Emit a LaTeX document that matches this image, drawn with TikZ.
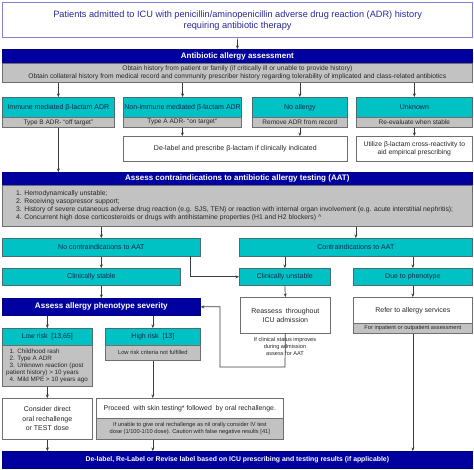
\documentclass[tikz,border=0pt]{standalone}
\usepackage{fontspec}
\setmainfont{Liberation Sans}
\usetikzlibrary{arrows.meta}
\definecolor{tealf}{RGB}{0,194,196}
\definecolor{tealb}{RGB}{70,110,115}
\definecolor{darkb}{RGB}{0,0,160}
\definecolor{grayf}{RGB}{194,194,194}
\definecolor{grayb}{RGB}{110,110,110}
\definecolor{topb}{RGB}{128,128,214}
\definecolor{toptext}{RGB}{40,40,150}
\definecolor{tealtext}{RGB}{25,40,80}
\definecolor{linec}{RGB}{60,60,60}
\begin{document}
\begin{tikzpicture}[x=1pt,y=-1pt,
  box/.style={anchor=north west,inner sep=1pt,align=center,line width=0.7pt},
  topbox/.style={box,draw=topb,fill=white,line width=1.3pt,text=toptext,font=\fontsize{9.2}{11}\selectfont},
  bar/.style={box,draw=darkb!80!black,fill=darkb,text=white,font=\bfseries\fontsize{8}{9}\selectfont},
  greybox/.style={box,draw=grayb,fill=grayf,text=black!85,font=\fontsize{6.7}{8}\selectfont},
  subbox/.style={greybox,font=\fontsize{6.5}{7}\selectfont},
  tealbox/.style={box,draw=tealb,fill=tealf,text=tealtext,font=\fontsize{7}{8}\selectfont},
  whitebox/.style={box,draw=grayb,fill=white,text=black!85,font=\fontsize{7}{9}\selectfont},
  arr/.style={draw=linec,line width=0.7pt,-{Stealth[length=3.5pt,width=3pt]}},
  ln/.style={draw=linec,line width=0.7pt}
]
\useasboundingbox (0,0) rectangle (474,470);
\fill[white] (0,0) rectangle (474,470);

\node[topbox,minimum width=470,minimum height=35] (top) at (2,2) {Patients admitted to ICU with penicillin/aminopenicillin adverse drug reaction (ADR) history\\requiring antibiotic therapy};

\node[bar,minimum width=470,minimum height=14] (a1) at (2,49) {Antibiotic allergy assessment};
\node[greybox,minimum width=470,minimum height=19] (a1g) at (2,63) {Obtain history from patient or family (if critically ill or unable to provide history)\\Obtain collateral history from medical record and community prescriber history regarding tolerability of implicated and class-related antibiotics};

\node[tealbox,minimum width=112,minimum height=20] (b1) at (2,97) {Immune mediated β-lactam ADR};
\node[subbox,minimum width=112,minimum height=10] (b1s) at (2,117) {Type B ADR- ``off target''};
\node[tealbox,minimum width=118,minimum height=20] (b2) at (123,97) {Non-immune mediated β-lactam ADR};
\node[subbox,minimum width=118,minimum height=10] (b2s) at (123,117) {Type A ADR- ``on target''};
\node[tealbox,minimum width=95,minimum height=20] (b3) at (252,97) {No allergy};
\node[subbox,minimum width=95,minimum height=10] (b3s) at (252,117) {Remove ADR from record};
\node[tealbox,minimum width=116,minimum height=20] (b4) at (356,97) {Unknown};
\node[subbox,minimum width=116,minimum height=10] (b4s) at (356,117) {Re-evaluate when stable};

\node[whitebox,minimum width=224,minimum height=25] (delabel) at (123,136) {De-label and prescribe β-lactam if clinically indicated};
\node[whitebox,minimum width=116,minimum height=25,font=\fontsize{6.8}{8.5}\selectfont] (util) at (356,136) {Utilize β-lactam cross-reactivity to\\aid empirical prescribing};

\node[bar,minimum width=470,minimum height=13] (aat) at (2,172) {Assess contraindications to antibiotic allergy testing (AAT)};
\node[greybox,minimum width=470,minimum height=41] (aatg) at (2,185) {};
\node[anchor=west,align=left,inner sep=0pt,text=black!85,font=\fontsize{6.8}{7.8}\selectfont] (aatt) at ([xshift=14pt]aatg.west) {1. Hemodynamically unstable;\\2. Receiving vasopressor support;\\3. History of severe cutaneous adverse drug reaction (e.g. SJS, TEN) or reaction with internal organ involvement (e.g. acute interstitial nephritis);\\4. Concurrent high dose corticosteroids or drugs with antihistamine properties (H1 and H2 blockers) \^{}};

\node[tealbox,minimum width=198,minimum height=18] (noc) at (2,238) {No contraindications to AAT};
\node[tealbox,minimum width=233,minimum height=18] (con) at (239,238) {Contraindications to AAT};

\node[tealbox,minimum width=178,minimum height=17] (stable) at (2,268) {Clinically stable};
\node[tealbox,minimum width=91,minimum height=17] (unst) at (239,268) {Clinically unstable};
\node[tealbox,minimum width=119,minimum height=17] (pheno) at (353,268) {Due to phenotype};

\node[bar,minimum width=198,minimum height=17,font=\bfseries\fontsize{8.1}{9}\selectfont] (sev) at (2,298) {Assess allergy phenotype severity};
\node[whitebox,minimum width=90,minimum height=36] (reas) at (240,297) {Reassess\ \ throughout\\ICU admission};
\node[anchor=north,align=center,inner sep=0pt,font=\fontsize{5.6}{7}\selectfont,text=black!85] (note) at (285,337) {If clinical status improves\\during admission\\assess for AAT};
\node[whitebox,minimum width=119,minimum height=26] (refer) at (353,297) {Refer to allergy services};
\node[greybox,minimum width=119,minimum height=10,font=\fontsize{5.7}{6}\selectfont] (refers) at (353,323) {For inpatient or outpatient assessment};

\node[tealbox,minimum width=90,minimum height=17] (low) at (2,328) {Low risk\ \ [13,65]};
\node[greybox,minimum width=90,minimum height=41] (lows) at (2,345) {};
\node[anchor=west,align=left,inner sep=0pt,text=black!85,font=\fontsize{6.3}{7.1}\selectfont] (lowt) at ([xshift=4pt]lows.west) {\ \ 1. Childhood rash\\\ \ 2. Type A ADR\\\ \ 3. Unknown reaction (post\\patient history) > 10 years\\\ \ 4. Mild MPE > 10 years ago};
\node[tealbox,minimum width=95,minimum height=17] (high) at (105,328) {High risk\ \ [13]};
\node[greybox,minimum width=95,minimum height=15,font=\fontsize{5.8}{6}\selectfont] (highs) at (105,345) {Low risk criteria not fulfilled};

\node[whitebox,minimum width=90,minimum height=41,font=\fontsize{7}{9.5}\selectfont] (consider) at (2,398) {Consider direct\\oral rechallenge\\or TEST dose};
\node[whitebox,minimum width=187,minimum height=20,font=\fontsize{6.9}{8}\selectfont] (proc) at (96,398) {Proceed\ \ with skin testing* followed\ \ by oral rechallenge.};
\node[greybox,minimum width=187,minimum height=21,font=\fontsize{5.7}{7}\selectfont] (procs) at (96,418) {If unable to give oral rechallenge as nil orally consider IV test\\dose (1/100-1/10 dose). Caution with false negative results [41]};

\node[bar,minimum width=470,minimum height=17,font=\bfseries\fontsize{6.85}{8}\selectfont] (final) at (2,451) {De-label, Re-Label or Revise label based on ICU prescribing and testing results (if applicable)};

% connectors
\draw[arr] (top.south) -- (a1.north);
\draw[arr] (b1.north |- a1g.south) -- (b1.north);
\draw[arr] (b2.north |- a1g.south) -- (b2.north);
\draw[arr] (b3.north |- a1g.south) -- (b3.north);
\draw[arr] (b4.north |- a1g.south) -- (b4.north);
\draw[arr] (b2s.south) -- (b2s.south |- delabel.north);
\draw[arr] (b3s.south) -- (b3s.south |- delabel.north);
\draw[arr] (b4s.south) -- (util.north);
\draw[arr] (b1s.south) -- (b1s.south |- aat.north);
\draw[arr] (noc.north |- aatg.south) -- (noc.north);
\draw[arr] (con.north |- aatg.south) -- (con.north);
\draw[arr] (noc.south) -- (noc.south |- stable.north);
\coordinate (nocr) at (190,256);
\draw[arr] (nocr) |- (unst.west);
\draw[arr] (unst.north |- con.south) -- (unst.north);
\draw[arr] (pheno.north |- con.south) -- (pheno.north);
\draw[arr] (noc.south |- stable.south) -- (noc.south |- sev.north);
\draw[arr] (unst.south) -- (reas.north);
\draw[arr] (pheno.south) -- (refer.north);
\coordinate (r1) at (285,367);
\coordinate (r2) at (220,367);
\draw[arr] (reas.south) -- (r1) -- (r2) |- (sev.east);
\draw[arr] (low.north |- sev.south) -- (low.north);
\draw[arr] (high.north |- sev.south) -- (high.north);
\draw[arr] (lows.south) -- (consider.north);
\draw[arr] (highs.south) -- (highs.south |- proc.north);
\draw[arr] (consider.south) -- (consider.south |- final.north);
\draw[arr] (highs.south |- procs.south) -- (highs.south |- final.north);
\draw[arr] (refers.south) -- (refers.south |- final.north);
\end{tikzpicture}
\end{document}
